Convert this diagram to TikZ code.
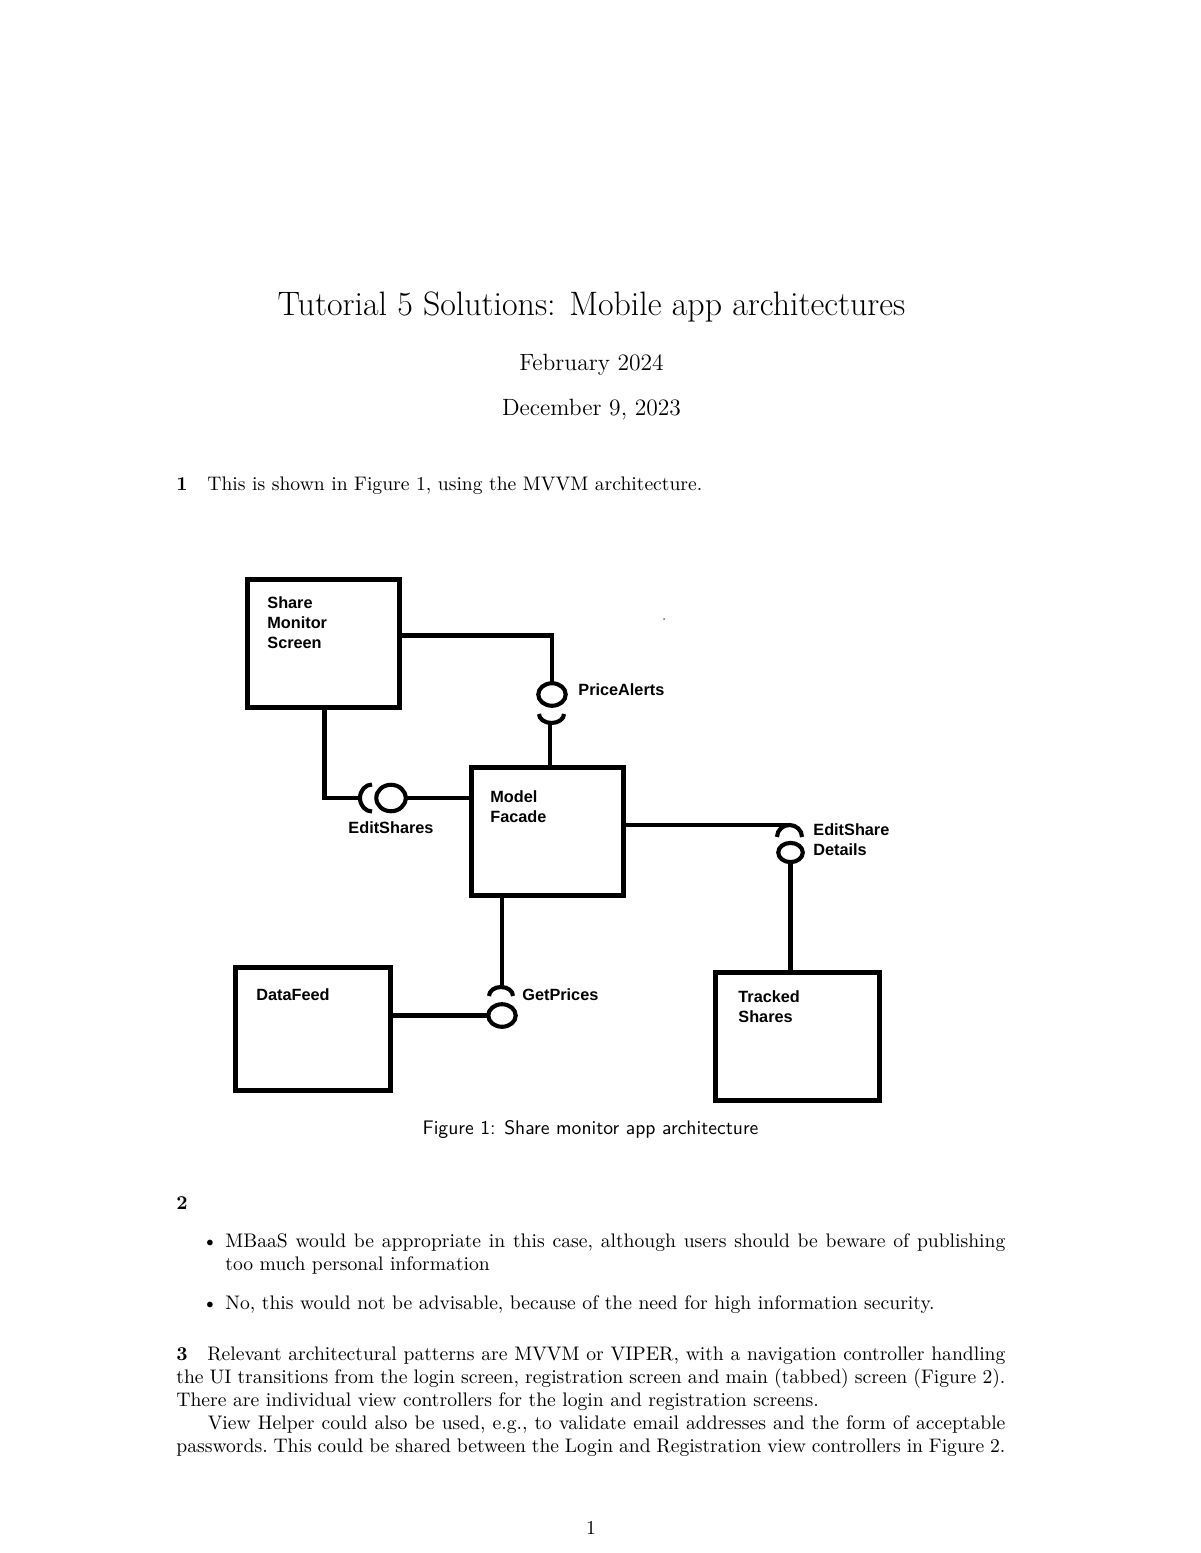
\documentclass[tikz,border=0pt]{standalone}
\usepackage{fontspec}
\newfontfamily\diagfont{Liberation Sans}
\usetikzlibrary{shapes.geometric}
\begin{document}
\begin{tikzpicture}[x=0.51pt,y=-0.51pt,
  box/.style={draw, line width=2.5pt, inner sep=0pt, outer sep=0pt},
  wire/.style={line width=2.5pt, line join=miter},
  cup/.style={line width=2.1pt},
  ball/.style={ellipse, draw, line width=2.1pt, inner sep=0pt, outer sep=0pt},
  lbl/.style={font=\diagfont\bfseries\fontsize{8.3}{10.2}\selectfont, inner sep=0pt, align=left, anchor=base west},
  txt/.style={inner sep=0pt, anchor=base west, font=\fontsize{10}{11.85}\selectfont},
  body/.style={inner sep=0pt, anchor=base west, align=justify, font=\fontsize{10}{11.85}\selectfont\frenchspacing}
]
\useasboundingbox (0,0) rectangle (1200,1553);

% ---------- header ----------
\node[inner sep=0pt, anchor=base, font=\LARGE] (title) at (591.5,315) {Tutorial 5 Solutions: Mobile app architectures};
\node[inner sep=0pt, anchor=base, font=\large] (feb) at (591.5,370) {February 2024};
\node[inner sep=0pt, anchor=base, font=\large] (dec) at (591.5,415) {December 9, 2023};

\node[txt] (n1) at (176,490) {\textbf{1}};
\node[txt] (p1) at (207,490) {This is shown in Figure 1, using the MVVM architecture.};

% ---------- diagram boxes ----------
\node[box, minimum width=77.52pt, minimum height=65.28pt] (sms) at (323.5,643.5) {};
\node[box, minimum width=77.52pt, minimum height=65.28pt] (mf) at (547.5,831.5) {};
\node[box, minimum width=79.05pt, minimum height=62.73pt] (df) at (313,1029) {};
\node[box, minimum width=83.64pt, minimum height=65.28pt] (ts) at (797.5,1036.5) {};

\node[lbl] (smsT) at (267,648) {Share\\Monitor\\Screen};
\node[lbl] (mfT) at (490,822) {Model\\Facade};
\node[lbl] (dfT) at (256,1000) {DataFeed};
\node[lbl] (tsT) at (738,1022) {Tracked\\Shares};

% ---------- interface balls ----------
\node[ball, minimum width=14pt, minimum height=11.5pt] (paB) at (552,694.5) {};
\node[ball, minimum width=15pt, minimum height=13.5pt] (esB) at (391,798) {};
\node[ball, minimum width=12.5pt, minimum height=9.8pt] (esdB) at (790.5,852.5) {};
\node[ball, minimum width=14pt, minimum height=11.5pt] (gpB) at (502,1015.5) {};

% ---------- sockets (cups) ----------
\draw[cup] (564,714) arc[start angle=0, end angle=180, x radius=12.5, y radius=9];
\draw[cup] (372,784.5) arc[start angle=270, end angle=90, x radius=12, y radius=13.5];
\draw[cup] (777,837) arc[start angle=180, end angle=360, x radius=12.5, y radius=12];
\draw[cup] (489,996) arc[start angle=180, end angle=360, x radius=12, y radius=9];

\coordinate (paSb) at (550,723);
\coordinate (esSl) at (360,798);
\coordinate (esdSt) at (789.5,825);
\coordinate (gpSt) at (502,987);

% ---------- connectors ----------
\draw[wire] (sms.east |- 0,635.5) -| (paB.north);
\draw[wire] (paSb) -- (paSb |- mf.north);
\draw[wire] (sms.south -| 324.5,0) |- (esSl);
\draw[wire] (esB.east) -- (esB.east -| mf.west);
\draw[wire] (mf.east |- esdSt) -- (esdSt);
\draw[wire] (esdB.south) -- (esdB.south |- ts.north);
\draw[wire] (mf.south -| gpSt) -- (gpSt);
\draw[wire] (df.east |- gpB.west) -- (gpB.west);

% ---------- interface labels ----------
\node[lbl] (paL) at (578,695) {PriceAlerts};
\node[lbl, anchor=base] (esL) at (391,833) {EditShares};
\node[lbl] (esdL) at (813,855) {EditShare\\Details};
\node[lbl] (gpL) at (522,1000) {GetPrices};

\fill[black!60] (664,619) circle[radius=1];

% ---------- caption ----------
\node[inner sep=0pt, anchor=base, font=\fontsize{10}{11.85}\selectfont\sffamily] (cap) at (590.5,1134) {Figure 1: Share monitor app architecture};

% ---------- section 2 ----------
\node[txt] (n2) at (176,1209) {\textbf{2}};
\node[inner sep=0pt, anchor=base, font=\fontsize{10}{11.85}\selectfont] (b1) at (210,1247) {\textbullet};
\node[body, text width=397.8pt] (b1T) at (225,1247) {MBaaS would be appropriate in this case, although users should be beware of publishing\linebreak too much personal information};
\node[inner sep=0pt, anchor=base, font=\fontsize{10}{11.85}\selectfont] (b2) at (210,1309) {\textbullet};
\node[body, text width=397.8pt] (b2T) at (225,1309) {No, this would not be advisable, because of the need for high information security.};

% ---------- section 3 ----------
\node[body, text width=422.8pt] (p3) at (176,1360) {\textbf{3}\hspace{1em}Relevant architectural patterns are MVVM or VIPER, with a navigation controller handling\linebreak the UI transitions from the login screen, registration screen and main (tabbed) screen (Figure 2).\linebreak There are individual view controllers for the login and registration screens.\par
\hspace*{16pt}View Helper could also be used, e.g., to validate email addresses and the form of acceptable\linebreak \makebox[\linewidth][s]{passwords. This could be shared between the Login and Registration view controllers in Figure 2.}};

\node[inner sep=0pt, anchor=base, font=\fontsize{10}{11.85}\selectfont] (pg) at (591,1534) {1};
\end{tikzpicture}
\end{document}
